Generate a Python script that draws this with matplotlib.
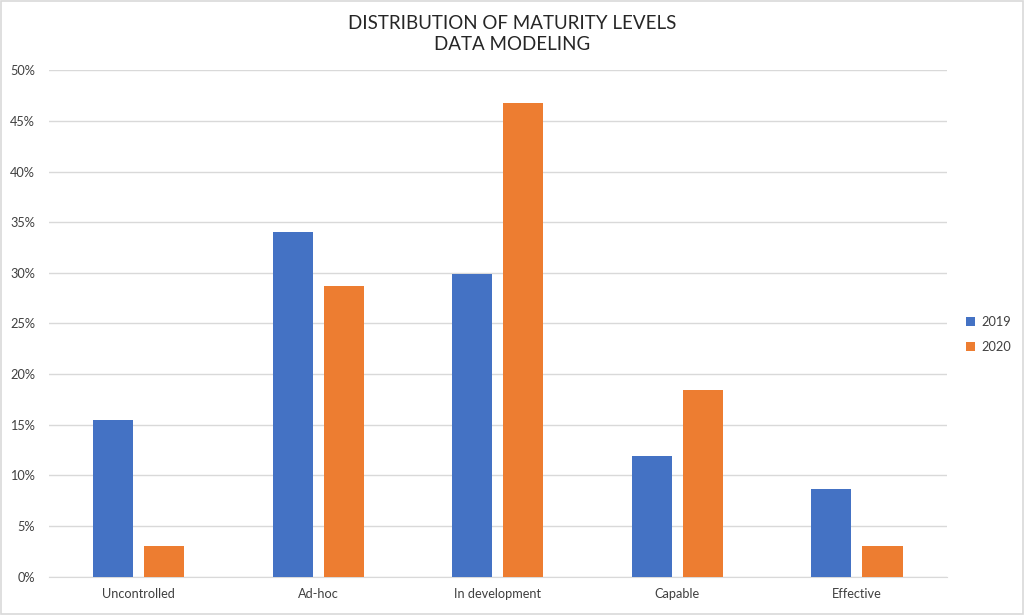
import matplotlib
matplotlib.use("Agg")
import matplotlib.pyplot as plt
from matplotlib.patches import Rectangle
import numpy as np

categories = ["Uncontrolled", "Ad-hoc", "In development", "Capable", "Effective"]
series_names = ["2019", "2020"]
values_2019 = [15.5, 34.0, 29.9, 11.9, 8.6]
values_2020 = [3.0, 28.7, 46.8, 18.4, 3.0]
yticks = [0, 5, 10, 15, 20, 25, 30, 35, 40, 45, 50]
title_lines = ["DISTRIBUTION OF MATURITY LEVELS", "DATA MODELING"]

colors = ["#4472C4", "#ED7D31"]
plt.rcParams['font.family'] = ['Lato', 'DejaVu Sans']

fig = plt.figure(figsize=(10.24, 6.15), dpi=100)
fig.patches.append(Rectangle((0.001, 0.001), 0.998, 0.997, transform=fig.transFigure,
                             fill=False, edgecolor="#D9D9D9", linewidth=1.2))
ax = fig.add_axes([0.0479, 0.0626, 0.8766, 0.8228])

x = np.arange(len(categories))
w = 0.223
off = 0.1425
ax.bar(x - off, values_2019, width=w, color=colors[0], label=series_names[0], zorder=3)
ax.bar(x + off, values_2020, width=w, color=colors[1], label=series_names[1], zorder=3)

ax.set_xlim(-0.5, len(categories) - 0.5)
ax.set_ylim(0, 50)
ax.set_yticks(yticks)
ax.set_yticklabels([f"{t}%" for t in yticks])
ax.set_xticks(x)
ax.set_xticklabels(categories)
ax.yaxis.grid(True, color="#D9D9D9", linewidth=1.0, zorder=0)
ax.set_axisbelow(True)
for s in ["top", "right", "left"]:
    ax.spines[s].set_visible(False)
ax.spines["bottom"].set_color("#D9D9D9")
ax.tick_params(axis="both", length=0, labelsize=9.2, colors="#404040")
ax.tick_params(axis="y", pad=10)
ax.tick_params(axis="x", pad=8)

fig.text(0.5, 0.962, title_lines[0], ha="center", va="center", fontsize=13.5, color="#262626")
fig.text(0.5, 0.928, title_lines[1], ha="center", va="center", fontsize=13.5, color="#262626")

leg = ax.legend(loc="center left", bbox_to_anchor=(1.009, 0.478), frameon=False,
                fontsize=9.2, handlelength=0.7, handleheight=0.7, handletextpad=0.5,
                labelspacing=1.05)
for t in leg.get_texts():
    t.set_color("#404040")

fig.savefig("out.png", dpi=100)
